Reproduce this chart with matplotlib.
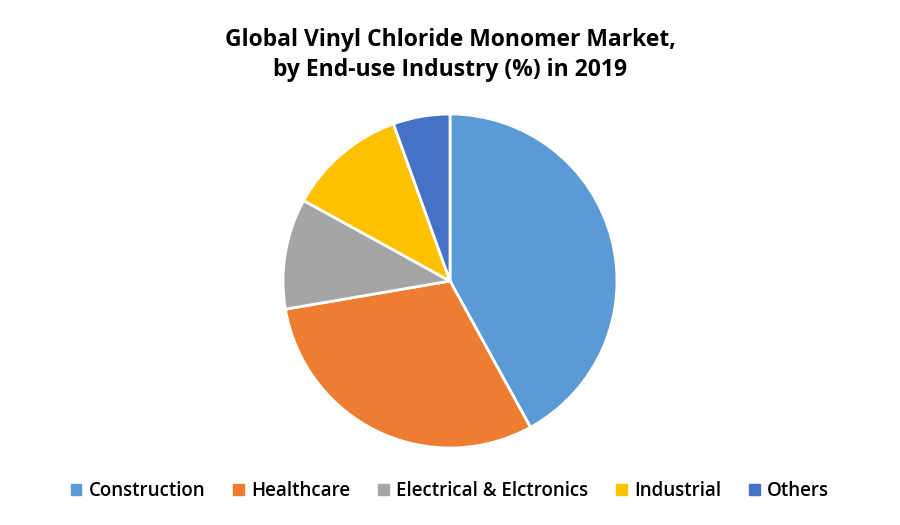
import matplotlib
matplotlib.use("Agg")
import matplotlib.pyplot as plt
from matplotlib.patches import Patch

categories = ["Construction", "Healthcare", "Electrical & Elctronics", "Industrial", "Others"]
values = [42.0, 30.3, 10.7, 11.5, 5.5]
colors = ["#5B9BD5", "#ED7D31", "#A5A5A5", "#FFC000", "#4472C4"]

plt.rcParams['font.family'] = ['Open Sans', 'DejaVu Sans']
fig = plt.figure(figsize=(9, 5.25), dpi=100)
ax = fig.add_axes([0.5 - 167/900, (525-448)/525, 334/900, 334/525])
ax.pie(values, colors=colors, startangle=90, counterclock=False,
       wedgeprops=dict(edgecolor="white", linewidth=2))
ax.set_aspect('equal')
ax.set_xlim(-1.0, 1.0)
ax.set_ylim(-1.0, 1.0)
fig.text(0.5, 0.895, "Global Vinyl Chloride Monomer Market,\nby End-use Industry (%) in 2019",
         ha='center', va='center', fontsize=16.5, fontweight='bold', linespacing=1.3)
handles = [Patch(color=c) for c in colors]
fig.legend(handles, categories, loc='center', bbox_to_anchor=(0.5, 0.064), ncol=5,
           frameon=False, handlelength=0.55, handleheight=0.55,
           handletextpad=0.4, columnspacing=1.5,
           prop={'weight': 'semibold', 'size': 13.5})
fig.savefig("out.png", dpi=100)
